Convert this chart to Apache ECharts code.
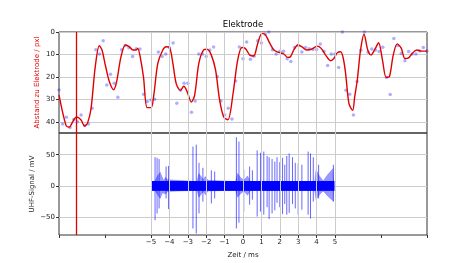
<!DOCTYPE html>
<html>
<head>
<meta charset="utf-8">
<script src="https://cdn.jsdelivr.net/npm/echarts@6/dist/echarts.min.js"></script>
<style>
html, body { margin: 0; padding: 0; background: #fff; }
#chart { width: 474px; height: 263px; }
</style>
</head>
<body>
<div id="chart"></div>
<script>
// Abstand zu Elektrode: Messpunkte
var distX = [-10.0, -9.8, -9.6, -9.4, -9.2, -9.0, -8.8, -8.6, -8.4, -8.2,
    -8.0, -7.8, -7.6, -7.4, -7.2, -7.0, -6.8, -6.6, -6.4, -6.2,
    -6.0, -5.8, -5.6, -5.4, -5.2, -5.0, -4.8, -4.6, -4.4, -4.2,
    -4.0, -3.8, -3.6, -3.4, -3.2, -3.0, -2.8, -2.6, -2.4, -2.2,
    -2.0, -1.8, -1.6, -1.4, -1.2, -1.0, -0.8, -0.6, -0.4, -0.2,
    0.0, 0.2, 0.4, 0.6, 0.8, 1.0, 1.2, 1.4, 1.6, 1.8,
    2.0, 2.2, 2.4, 2.6, 2.8, 3.0, 3.2, 3.4, 3.6, 3.8,
    4.0, 4.2, 4.4, 4.6, 4.8, 5.0, 5.2, 5.4, 5.6, 5.8,
    6.0, 6.2, 6.4, 6.6, 6.8, 7.0, 7.2, 7.4, 7.6, 7.8,
    8.0, 8.2, 8.4, 8.6, 8.8, 9.0, 9.2, 9.4, 9.6, 9.8, 10.0];
var distY = [25.8, 41, 38, 42.6, 39, 40, 37, 41.7, 41, 34,
    7.9, 9.8, 3.9, 23.6, 18.8, 22.8, 29.1, 7.9, 6, 7,
    10.9, 7.5, 7.6, 27.7, 31, 30.3, 30, 8.9, 10.9, 9.8,
    7, 4.9, 31.8, 26, 22.8, 22.8, 35.8, 30.7, 9.8, 9.8,
    10.9, 8, 6.7, 19.8, 30.7, 37, 34, 38.8, 21.8, 6.7,
    11.9, 4.4, 12.1, 10.8, 3.9, 4.9, 1, 0, 7.9, 9.8,
    8.6, 8.6, 11.9, 13.1, 6.9, 6, 8.9, 6.9, 7.5, 7.8,
    7.8, 5.3, 8.6, 14.9, 9.8, 9.8, 15.8, 0, 25.9, 27.7,
    37, 22, 8.1, 0, 9, 7.6, 8, 8.7, 6.8, 20.3,
    27.8, 2.9, 6, 9.6, 12.8, 8.7, 9.8, 9.8, 8.5, 6.9, 8.5];

// geglaettete Kurve (rot)
var smoothX = [-10.0, -9.62, -9.44, -9.26, -9.05, -8.81, -8.61, -8.45, -8.26, -8.03,
    -7.81, -7.66, -7.48, -7.26, -7.03, -6.87, -6.63, -6.39, -6.17, -5.99,
    -5.81, -5.72, -5.59, -5.41, -5.21, -4.99, -4.85, -4.63, -4.36, -4.17,
    -3.99, -3.81, -3.63, -3.40, -3.22, -3.03, -2.81, -2.63, -2.40, -2.14,
    -1.96, -1.72, -1.49, -1.27, -1.05, -0.82, -0.54, -0.29, -0.06, 0.13,
    0.37, 0.58, 0.80, 1.03, 1.22, 1.46, 1.68, 1.95, 2.22, 2.43,
    2.58, 2.76, 2.98, 3.21, 3.45, 3.71, 4.03, 4.25, 4.49, 4.76,
    4.94, 5.12, 5.31, 5.45, 5.57, 5.76, 5.96, 6.07, 6.21, 6.39,
    6.58, 6.78, 6.96, 7.18, 7.37, 7.58, 7.78, 7.96, 8.16, 8.38,
    8.6, 8.8, 9.0, 9.2, 9.45, 9.7, 10.0];
var smoothY = [28, 41.6, 42.4, 40.1, 37.9, 39.1, 41.9, 40.6, 34.2, 15.5,
    6.1, 8.1, 14.8, 22.2, 25.7, 22.2, 11, 5.8, 6.6, 8,
    8, 7.3, 11, 20, 33.7, 33.7, 28.2, 14, 8, 6.6,
    6.9, 14, 23, 26, 24.2, 26.7, 31.2, 28.2, 14, 8,
    7.7, 10.3, 17, 30.4, 37.9, 39.1, 27.4, 12.5, 6.9, 7.3,
    10.3, 10.7, 5.1, 0.6, 1.3, 5.1, 8, 9.1, 9.8, 11.3,
    11, 8, 5.8, 6.6, 8, 7.7, 6.3, 7.3, 10.3, 12.8,
    11.8, 9.3, 8.8, 11.8, 18, 31.9, 34.9, 28.9, 21.5, 8,
    1, 8, 10.2, 7.5, 4.8, 12.5, 20.2, 19.8, 10.5, 5.3,
    7.2, 11.8, 11.5, 9.5, 8, 8.5, 8.5];

// UHF-Signal: Grundband
var bandT = [-5.0, 4.97];
var bandHi = [7, 7];
var bandLo = [-7, -7];

// UHF-Signal: Huellkurve der Bursts
var burstT = [-5.0, -4.8, -4.65, -4.5, -4.38, -4.3, -4.22, -4.1, -4.0,
    -2.5, -2.4, -2.3, -2.15, -2.05, -1.9, -1.8,
    -0.4, -0.3, -0.15, 0.05, 0.25, 0.4,
    3.9, 3.97, 4.15, 4.36, 4.6, 4.9, 4.97];
var burstHi = [7, 7, 16, 22, 13, 8, 14, 10, 7,
    7, 20, 16, 10, 15, 9, 7,
    7, 20, 14, 9, 16, 7,
    7, 26, 16, 8, 18, 28, 26];
var burstLo = [-7, -7, -14, -20, -11, -8, -13, -9, -7,
    -7, -18, -15, -9, -14, -8, -7,
    -7, -18, -13, -8, -15, -7,
    -7, -22, -14, -8, -16, -24, -22];

// UHF-Signal: einzelne Spitzen
var spikeT = [-4.78, -4.67, -4.56, -4.18, -4.05, -2.72, -2.54, -2.39, -2.18, -1.72,
    -1.54, -0.36, -0.22, 0.04, 0.36, 0.51, 0.77, 0.95, 1.13, 1.31,
    1.42, 1.58, 1.73, 1.85, 2.0, 2.15, 2.27, 2.38, 2.51, 2.69,
    2.84, 3.0, 3.2, 3.54, 3.67, 3.82, 4.11, 4.91];
var spikeHi = [46, 45, 43, 31, 32, 63, 66, 37, 29, 25,
    23, 78, 71, 26, 31, 25, 57, 53, 55, 48,
    46, 43, 39, 46, 38, 45, 34, 48, 52, 46,
    37, 36, 34, 55, 52, 46, 34, 34];
var spikeLo = [-55, -44, -36, -20, -37, -68, -76, -44, -25, -28,
    -20, -68, -59, -41, -30, -22, -49, -41, -46, -34,
    -53, -44, -39, -27, -34, -45, -29, -46, -43, -29,
    -36, -46, -38, -46, -52, -25, -20, -25];

var markX = -9.05;
var xTicks = [-10, -7.5, -5, -4, -3, -2, -1, 0, 1, 2, 3, 4, 5, 7.5, 10];
var xLabels = [-5, -4, -3, -2, -1, 0, 1, 2, 3, 4, 5];

function pairs(xs, ys) {
    return xs.map(function (x, i) { return [x, ys[i]]; });
}
function minus(v) {
    return String(v).replace('-', '\u2212');
}

var font = 'DejaVu Sans';
var gridGray = '#cccccc';
var markLine = {
    silent: true,
    symbol: 'none',
    label: { show: false },
    lineStyle: { color: '#e00000', width: 1.3, type: 'solid' },
    data: [{ xAxis: markX }]
};
// vertikale Gitterlinien nur bei -5 ... 5 (als markLine unter den Daten)
var vGrid = {
    silent: true,
    symbol: 'none',
    label: { show: false },
    lineStyle: { color: gridGray, width: 1, type: 'solid' },
    data: xLabels.map(function (v) { return { xAxis: v }; })
};

var chart = echarts.init(document.getElementById('chart'));
chart.setOption({
    animation: false,
    backgroundColor: '#fff',
    title: {
        text: 'Elektrode',
        left: 238,
        top: 15,
        textAlign: 'center',
        textStyle: { fontFamily: font, fontSize: 8.5, fontWeight: 'normal', color: '#000' }
    },
    grid: [
        { left: 59, right: 47, top: 32, height: 101, show: true, borderColor: '#333', borderWidth: 1, backgroundColor: 'transparent' },
        { left: 59, right: 47, top: 133, height: 102, show: true, borderColor: '#333', borderWidth: 1, backgroundColor: 'transparent' }
    ],
    xAxis: [
        {
            gridIndex: 0, type: 'value', min: -10, max: 10, interval: 1,
            axisLine: { show: false, onZero: false }, axisTick: { show: false }, axisLabel: { show: false },
            splitLine: { show: false }
        },
        {
            gridIndex: 1, type: 'value', min: -10, max: 10, interval: 1,
            axisLine: { show: false, onZero: false },
            axisTick: { show: true, customValues: xTicks, length: 3, lineStyle: { color: '#333', width: 1 } },
            axisLabel: { customValues: xLabels, formatter: minus, fontFamily: font, fontSize: 7, color: '#222', margin: 4 },
            splitLine: { show: false },
            name: 'Zeit / ms', nameLocation: 'middle', nameGap: 17, nameMoveOverlap: false,
            nameTextStyle: { fontFamily: font, fontSize: 7, color: '#222' }
        }
    ],
    yAxis: [
        {
            gridIndex: 0, type: 'value', inverse: true, min: 0, max: 45, interval: 10,
            axisLine: { show: false, onZero: false },
            axisTick: { show: true, customValues: [0, 10, 20, 30, 40], length: 3, lineStyle: { color: '#333' } },
            axisLabel: { customValues: [0, 10, 20, 30, 40], fontFamily: font, fontSize: 7, color: '#222', margin: 4 },
            splitLine: { show: true, lineStyle: { color: gridGray, width: 1 } },
            name: 'Abstand zu Elektrode / pxl', nameLocation: 'middle', nameGap: 18, nameMoveOverlap: false,
            nameTextStyle: { fontFamily: font, fontSize: 7, color: '#e00000' }
        },
        {
            gridIndex: 1, type: 'value', min: -78.5, max: 84.7, minInterval: 50, maxInterval: 50, splitNumber: 3,
            axisLine: { show: false, onZero: false },
            axisTick: { show: true, customValues: [-50, 0, 50], length: 3, lineStyle: { color: '#333' } },
            axisLabel: { customValues: [-50, 0, 50], formatter: minus, fontFamily: font, fontSize: 7, color: '#222', margin: 4 },
            splitLine: { show: true, lineStyle: { color: gridGray, width: 1 } },
            name: 'UHF-Signal / mV', nameLocation: 'middle', nameGap: 23, nameMoveOverlap: false,
            nameTextStyle: { fontFamily: font, fontSize: 7, color: '#222' }
        }
    ],
    series: [
        {
            // Gitter oben
            type: 'line', xAxisIndex: 0, yAxisIndex: 0, z: 0, data: [],
            markLine: vGrid
        },
        {
            // Gitter unten
            type: 'line', xAxisIndex: 1, yAxisIndex: 1, z: 0, data: [],
            markLine: vGrid
        },
        {
            type: 'scatter', xAxisIndex: 0, yAxisIndex: 0,
            symbolSize: 3.5,
            itemStyle: { color: 'rgba(30,30,255,0.45)' },
            data: pairs(distX, distY),
            markLine: markLine
        },
        {
            type: 'line', xAxisIndex: 0, yAxisIndex: 0,
            smooth: 0.3, showSymbol: false, symbol: 'none',
            lineStyle: { color: '#e00000', width: 1.4 },
            data: pairs(smoothX, smoothY)
        },
        {
            type: 'line', xAxisIndex: 1, yAxisIndex: 1, symbol: 'none',
            lineStyle: { color: '#0000ff', width: 0.5, opacity: 0.4 },
            areaStyle: { color: '#0000ff', opacity: 0.4, origin: 'auto' },
            data: pairs(burstT, burstHi),
            markLine: markLine
        },
        {
            type: 'line', xAxisIndex: 1, yAxisIndex: 1, symbol: 'none',
            lineStyle: { color: '#0000ff', width: 0.5, opacity: 0.4 },
            areaStyle: { color: '#0000ff', opacity: 0.4, origin: 'auto' },
            data: pairs(burstT, burstLo)
        },
        {
            type: 'custom', xAxisIndex: 1, yAxisIndex: 1,
            encode: { x: 0, y: [1, 2] },
            data: spikeT.map(function (t, i) { return [t, spikeHi[i], spikeLo[i]]; }),
            renderItem: function (params, api) {
                var a = api.coord([api.value(0), api.value(1)]);
                var b = api.coord([api.value(0), api.value(2)]);
                return {
                    type: 'line',
                    shape: { x1: a[0], y1: a[1], x2: b[0], y2: b[1] },
                    style: { stroke: '#0000ff', lineWidth: 1, opacity: 0.6 }
                };
            }
        },
        {
            type: 'line', xAxisIndex: 1, yAxisIndex: 1, symbol: 'none',
            lineStyle: { color: '#0000ff', width: 1 },
            areaStyle: { color: '#0000ff', opacity: 1, origin: 'auto' },
            data: pairs(bandT, bandHi)
        },
        {
            type: 'line', xAxisIndex: 1, yAxisIndex: 1, symbol: 'none',
            lineStyle: { color: '#0000ff', width: 1 },
            areaStyle: { color: '#0000ff', opacity: 1, origin: 'auto' },
            data: pairs(bandT, bandLo)
        }
    ]
});
</script>
</body>
</html>
